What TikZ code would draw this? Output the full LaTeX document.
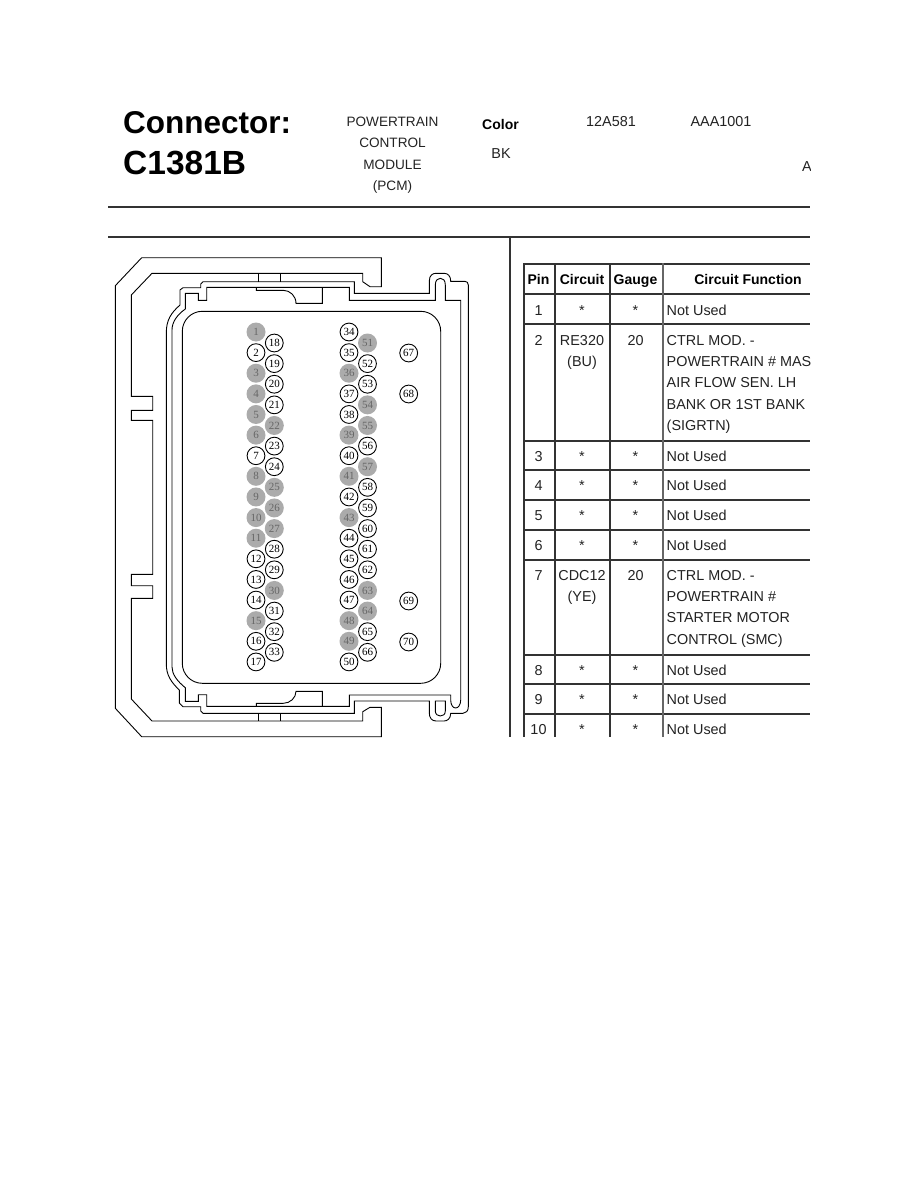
\documentclass[tikz,border=0pt]{standalone}
\usepackage{fontspec}
\setmainfont{Liberation Sans}
\newfontfamily\pinfont{Liberation Serif}
\definecolor{rule}{HTML}{333333}
\definecolor{deadfill}{HTML}{ABABAB}
\definecolor{deadtext}{HTML}{666666}
\definecolor{ink}{HTML}{222222}
\tikzstyle{pin}=[circle,draw=black,fill=white,line width=0.9pt,minimum size=17.8pt,inner sep=0pt,font=\pinfont\fontsize{11}{11}\selectfont]
\tikzstyle{deadpin}=[pin,draw=none,fill=deadfill,text=deadtext,minimum size=19pt]
\tikzstyle{shell}=[draw=black,line width=0.9pt]
\tikzstyle{thickrule}=[draw=rule,line width=2.2pt]
\tikzstyle{gridrule}=[draw=rule,line width=2pt]
\tikzstyle{cell}=[anchor=base,inner sep=0pt,text=ink,font=\fontsize{14.4}{21.4}\selectfont,align=center]
\tikzstyle{funccell}=[cell,anchor=base west,align=left]
\tikzstyle{headcell}=[cell,font=\fontsize{14}{21.4}\selectfont\bfseries,text=black]
\tikzstyle{title}=[anchor=base west,inner sep=0pt,text=black,font=\fontsize{31.5}{41}\selectfont\bfseries]

\begin{document}
\begin{tikzpicture}[x=1pt,y=-1pt]
    \useasboundingbox (0,0) rectangle (918,1188);

    % Header
    \node[title] (titleone) at (123,133.5) {Connector:};
    \node[title,font=\fontsize{33.5}{41}\selectfont\bfseries] (titletwo) at (123,174.5) {C1381B};
    \node[cell,font=\fontsize{13.6}{21.4}\selectfont] (module) at (392.5,190.5) {POWERTRAIN\\CONTROL\\MODULE\\(PCM)};
    \node[headcell] (colorhead) at (500.5,129.5) {Color};
    \node[cell] (colorval) at (501,158.5) {BK};
    \node[cell] (partone) at (611,126.5) {12A581};
    \node[cell] (parttwo) at (721,126.5) {AAA1001};

    \foreach \ypos in {207,237}
        \path[thickrule] (108,\ypos) -- (810,\ypos);
    \path[gridrule] (510,237) -- (510,737);

    % Connector shell
    \path[shell] (115.3,285.7) -- (141.7,257.7) -- (381.3,257.7) -- (381.3,286.7) -- (370,286.7)
        -- (362.7,281.7) -- (362.7,273.3) -- (152,273.3) -- (131.3,295) -- (131.3,396.3)
        -- (152.7,396.3) -- (152.7,410.3) -- (131.3,410.3) -- (131.3,420.3) -- (152.7,420.3)
        -- (152.7,574.3) -- (131.3,574.3) -- (131.3,585.7) -- (152.7,585.7) -- (152.7,598.3)
        -- (131.3,598.3) -- (131.3,699) -- (152,721) -- (362.7,721) -- (362.7,711.7) -- (370,707.3)
        -- (381.3,707.3) -- (381.3,736.7) -- (141.7,736.7) -- (115.3,708.3) -- cycle;
    % Housing, outer wall
    \path[shell] (166.3,333) .. controls (166.3,320) and (171,313) .. (180,305) -- (180,290)
        -- (183,287.7) -- (200.7,287.7) -- (200.7,284) -- (203,281.7) -- (354.3,281.7)
        -- (354.3,293.3) -- (429.3,293.3) -- (429.3,281)
        .. controls (429.3,275) and (433,273.3) .. (436,273.3) -- (444,273.3)
        .. controls (448,273.3) and (450.7,276) .. (450.7,281.3) -- (465,281.3)
        .. controls (467,281.3) and (468.3,283) .. (468.3,285) -- (468.3,706.7)
        .. controls (468.3,711) and (466,713.3) .. (463,713.3) -- (450.7,713.3)
        .. controls (450.7,719) and (447,721) .. (444,721) -- (436,721)
        .. controls (432,721) and (429.3,718) .. (429.3,713) -- (429.3,701) -- (354.3,701)
        -- (354.3,713.3) -- (203,713.3) -- (200.7,711) -- (200.7,706.7) -- (183,706.7)
        -- (179.3,703) -- (179.3,690) .. controls (171,682) and (166.3,675) .. (166.3,664) -- cycle;
    % Housing, inner wall
    \path[shell] (172,330) .. controls (172,322) and (177,315) .. (185.3,309) -- (185.3,293.3)
        -- (198.3,293.3) -- (198.3,300.3) -- (206.7,300.3) -- (206.7,287.3) -- (349.3,287.3)
        -- (349.3,300.3) -- (435.3,300.3) -- (435.3,285)
        .. controls (435.3,280) and (438,278.3) .. (440.3,278.3)
        .. controls (443,278.3) and (445.3,280) .. (445.3,285) -- (445.3,300.3) -- (460.7,300.3)
        -- (460.7,700) .. controls (460.7,705) and (458,708) .. (455.7,708)
        .. controls (453,708) and (450.7,705) .. (450.7,700) -- (450.7,695) -- (349.3,695)
        -- (349.3,706.3) -- (206.7,706.3) -- (206.7,694.7) -- (198.3,694.7) -- (198.3,701.3)
        -- (185.3,701.3) -- (185.3,687.7) .. controls (177,681) and (172,674) .. (172,667) -- cycle;
    \path[shell] (435.3,701) -- (435.3,711) .. controls (435.3,714.5) and (438,716) .. (440.3,716)
        .. controls (443,716) and (445.3,714.5) .. (445.3,711) -- (445.3,701) -- cycle;
    % Keyways and ribs
    \path[shell] (256.3,287.3) -- (256.3,290.3) -- (283.3,290.3)
        .. controls (290,290.3) and (296,296) .. (296,303.3) -- (322.3,303.3) -- (322.3,287.3);
    \path[shell] (256.3,706.3) -- (256.3,703.3) -- (283.3,703.3)
        .. controls (290,703.3) and (296,698) .. (296,691.3) -- (322.3,691.3) -- (322.3,706.3);
    \foreach \xpos in {258.3,280.3} {
        \path[shell] (\xpos,273.3) -- (\xpos,281.7);
        \path[shell] (\xpos,713.3) -- (\xpos,721);
    }
    % Pin field
    \path[shell,rounded corners=20pt] (182.3,311.3) rectangle (440.7,683.3);

    \foreach \n/\kind in {1/deadpin,2/pin,3/deadpin,4/deadpin,5/deadpin,6/deadpin,7/pin,8/deadpin,9/deadpin,10/deadpin,11/deadpin,12/pin,13/pin,14/pin,15/deadpin,16/pin,17/pin}
        \node[\kind] (pin\n) at (256,{332+(\n-1)*20.62}) {\n};
    \foreach \n/\kind in {18/pin,19/pin,20/pin,21/pin,22/deadpin,23/pin,24/pin,25/deadpin,26/deadpin,27/deadpin,28/pin,29/pin,30/deadpin,31/pin,32/pin,33/pin}
        \node[\kind] (pin\n) at (274.3,{343+(\n-18)*20.62}) {\n};
    \foreach \n/\kind in {34/pin,35/pin,36/deadpin,37/pin,38/pin,39/deadpin,40/pin,41/deadpin,42/pin,43/deadpin,44/pin,45/pin,46/pin,47/pin,48/deadpin,49/deadpin,50/pin}
        \node[\kind] (pin\n) at (349,{332+(\n-34)*20.62}) {\n};
    \foreach \n/\kind in {51/deadpin,52/pin,53/pin,54/deadpin,55/deadpin,56/pin,57/deadpin,58/pin,59/pin,60/pin,61/pin,62/pin,63/deadpin,64/deadpin,65/pin,66/pin}
        \node[\kind] (pin\n) at (367.5,{343+(\n-51)*20.62}) {\n};
    \foreach \pos/\n in {{(408.7,353)/67},{(408.7,394)/68},{(408.7,601)/69},{(408.7,642)/70}}
        \node[pin] (pin\n) at \pos {\n};

    % Everything right of the page cut
    \begin{scope}
        \clip (0,0) rectangle (810,737);
        \node[cell,anchor=base west] (cutletter) at (802,171.5) {A};

        % Table rules
        \foreach \ypos in {264,294,324.3,441,470,499.5,530,560,654.5,684.3,714}
            \path[gridrule] (523,\ypos) -- (810,\ypos);
        \foreach \xpos in {523.5,555,610}
            \path[gridrule] (\xpos,263) -- (\xpos,737);
        \path[gridrule,draw=gray!80!black] (662.7,263) -- (662.7,737);

        % Table head
        \foreach \xpos/\ypos/\name/\txt in {538.5/284.3/headpin/Pin,582/284.3/headcircuit/Circuit,635.5/284.3/headgauge/Gauge,748/284.3/headfunc/Circuit Function}
            \node[headcell] (\name) at (\xpos,\ypos) {\txt};

        % Table rows, y of the last text line per column
        \foreach \row/\ypos/\ycirc/\yfunc/\circuit/\gauge/\func in {
            1/315/315/315/*/*/Not Used,
            2/345/366.5/430.7/{RE320\\(BU)}/20/{CTRL MOD. -\\POWERTRAIN \# MAS\\AIR FLOW SEN. LH\\BANK OR 1ST BANK\\(SIGRTN)},
            3/461/461/461/*/*/Not Used,
            4/490/490/490/*/*/Not Used,
            5/520/520/520/*/*/Not Used,
            6/550/550/550/*/*/Not Used,
            7/580/601.5/644.3/{CDC12\\(YE)}/20/{CTRL MOD. -\\POWERTRAIN \#\\STARTER MOTOR\\CONTROL (SMC)},
            8/675/675/675/*/*/Not Used,
            9/704.3/704.3/704.3/*/*/Not Used,
            10/734/734/734/*/*/Not Used} {
            \node[cell] (rowpin\row) at (538.5,\ypos) {\row};
            \node[cell] (rowcircuit\row) at (582,\ycirc) {\circuit};
            \node[cell] (rowgauge\row) at (635.5,\ypos) {\gauge};
            \node[funccell] (rowfunc\row) at (666.5,\yfunc) {\func};
        }
    \end{scope}
\end{tikzpicture}
\end{document}
